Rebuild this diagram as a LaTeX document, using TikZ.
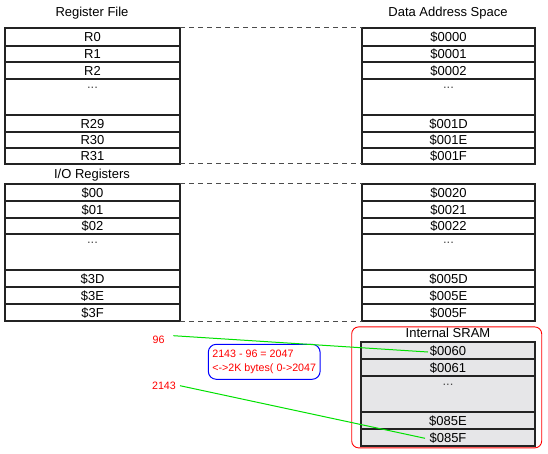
\documentclass[tikz,border=0pt]{standalone}
\usepackage{fontspec}
\setmainfont{Liberation Sans}
\definecolor{gline}{RGB}{0,225,0}
\definecolor{cellgray}{RGB}{230,230,232}
\definecolor{bord}{RGB}{35,35,35}
\newcommand{\cellfont}{\fontsize{13}{15}\selectfont}
\newcommand{\notefont}{\fontsize{10.7}{13.4}\selectfont}
\begin{document}
\begin{tikzpicture}[x=1pt,y=-1pt,
  cell/.style={draw=bord, line width=2pt, inner sep=0pt, outer sep=0pt,
    text height=9.5pt, text depth=0pt, font=\cellfont},
  lcell/.style={cell, minimum width=175pt},
  rcell/.style={cell, minimum width=173pt},
  scell/.style={cell, minimum width=174pt, fill=cellgray},
  dots/.style={font=\cellfont, text=black!70, inner sep=0pt},
  title/.style={font=\cellfont, inner sep=0pt},
  dashline/.style={draw=black!70, line width=1pt, dash pattern=on 5pt off 4pt},
  redlabel/.style={font=\notefont, text=red, inner sep=0pt},
  gconn/.style={draw=gline, line width=1pt}]
\useasboundingbox (0,0) rectangle (548,454);

% titles
\node[title] (tRF) at (92,13) {Register File};
\node[title] (tDA) at (448,13) {Data Address Space};
\node[title] (tIO) at (92,175) {I/O Registers};

% SRAM frame
\node[draw=red, line width=0.9pt, rounded corners=7pt, minimum width=190pt,
  minimum height=121pt, inner sep=0pt] (sram) at (446.7,387.4) {};
\node[title] (tSR) at (448,333) {Internal SRAM};

% register file (left)
\foreach \i/\t/\b/\l in {1/28/46/R0, 2/46/62/R1, 3/62/79/R2, 4/79/115/{}, 5/115/132/R29, 6/132/148/R30, 7/148/164/R31}
  \node[lcell, minimum height={(\b-\t)*1pt}] (rf\i) at (92.5,{(\t+\b)/2}) {\l};
\node[dots] (rfd) at (92.5,88) {...};

% data address space (right, top)
\foreach \i/\t/\b/\l in {1/28/46/\$0000, 2/46/62/\$0001, 3/62/79/\$0002, 4/79/115/{}, 5/115/132/\$001D, 6/132/148/\$001E, 7/148/164/\$001F}
  \node[rcell, minimum height={(\b-\t)*1pt}] (da\i) at (448.5,{(\t+\b)/2}) {\l};
\node[dots] (dad) at (448.5,88) {...};

% I/O registers (left)
\foreach \i/\t/\b/\l in {1/184/201/\$00, 2/201/218/\$01, 3/218/234/\$02, 4/234/270/{}, 5/270/287/\$3D, 6/287/304/\$3E, 7/304/321/\$3F}
  \node[lcell, minimum height={(\b-\t)*1pt}] (io\i) at (92.5,{(\t+\b)/2}) {\l};
\node[dots] (iod) at (92.5,243) {...};

% data address space (right, I/O)
\foreach \i/\t/\b/\l in {1/184/201/\$0020, 2/201/218/\$0021, 3/218/234/\$0022, 4/234/270/{}, 5/270/287/\$005D, 6/287/304/\$005E, 7/304/321/\$005F}
  \node[rcell, minimum height={(\b-\t)*1pt}] (db\i) at (448.5,{(\t+\b)/2}) {\l};
\node[dots] (dbd) at (448.5,243) {...};

% internal SRAM
\foreach \i/\t/\b/\l in {1/342/359/\$0060, 2/359/376/\$0061, 3/376/412/{}, 4/412/429/\$085E, 5/429/446/\$085F}
  \node[scell, minimum height={(\b-\t)*1pt}] (sr\i) at (448,{(\t+\b)/2}) {\l};
\node[dots] (srd) at (448,385) {...};

% dashed mapping lines
\draw[dashline] (rf1.north east) -- (da1.north west);
\draw[dashline] (rf7.south east) -- (da7.south west);
\draw[dashline] (io1.north east) -- (db1.north west);
\draw[dashline] (io7.south east) -- (db7.south west);

% annotation
\node[redlabel] (l96) at (158.5,340) {96};
\node[redlabel] (l2143) at (164,385.7) {2143};
\node[draw=blue, line width=1pt, rounded corners=8pt, inner xsep=4pt,
  minimum height=35pt, align=left, font=\notefont, text=red] (note) at (264.2,361.8)
  {2143 - 96 = 2047\\<->2K bytes( 0->2047};

\coordinate (g1) at (173.3,335.7);
\coordinate (g2) at (180,385.7);
\draw[gconn] (g1) -- ([xshift=-20pt,yshift=-1.5pt]sr1.center);
\draw[gconn] (g2) -- ([xshift=-23pt,yshift=-0.8pt]sr5.center);
\end{tikzpicture}
\end{document}
